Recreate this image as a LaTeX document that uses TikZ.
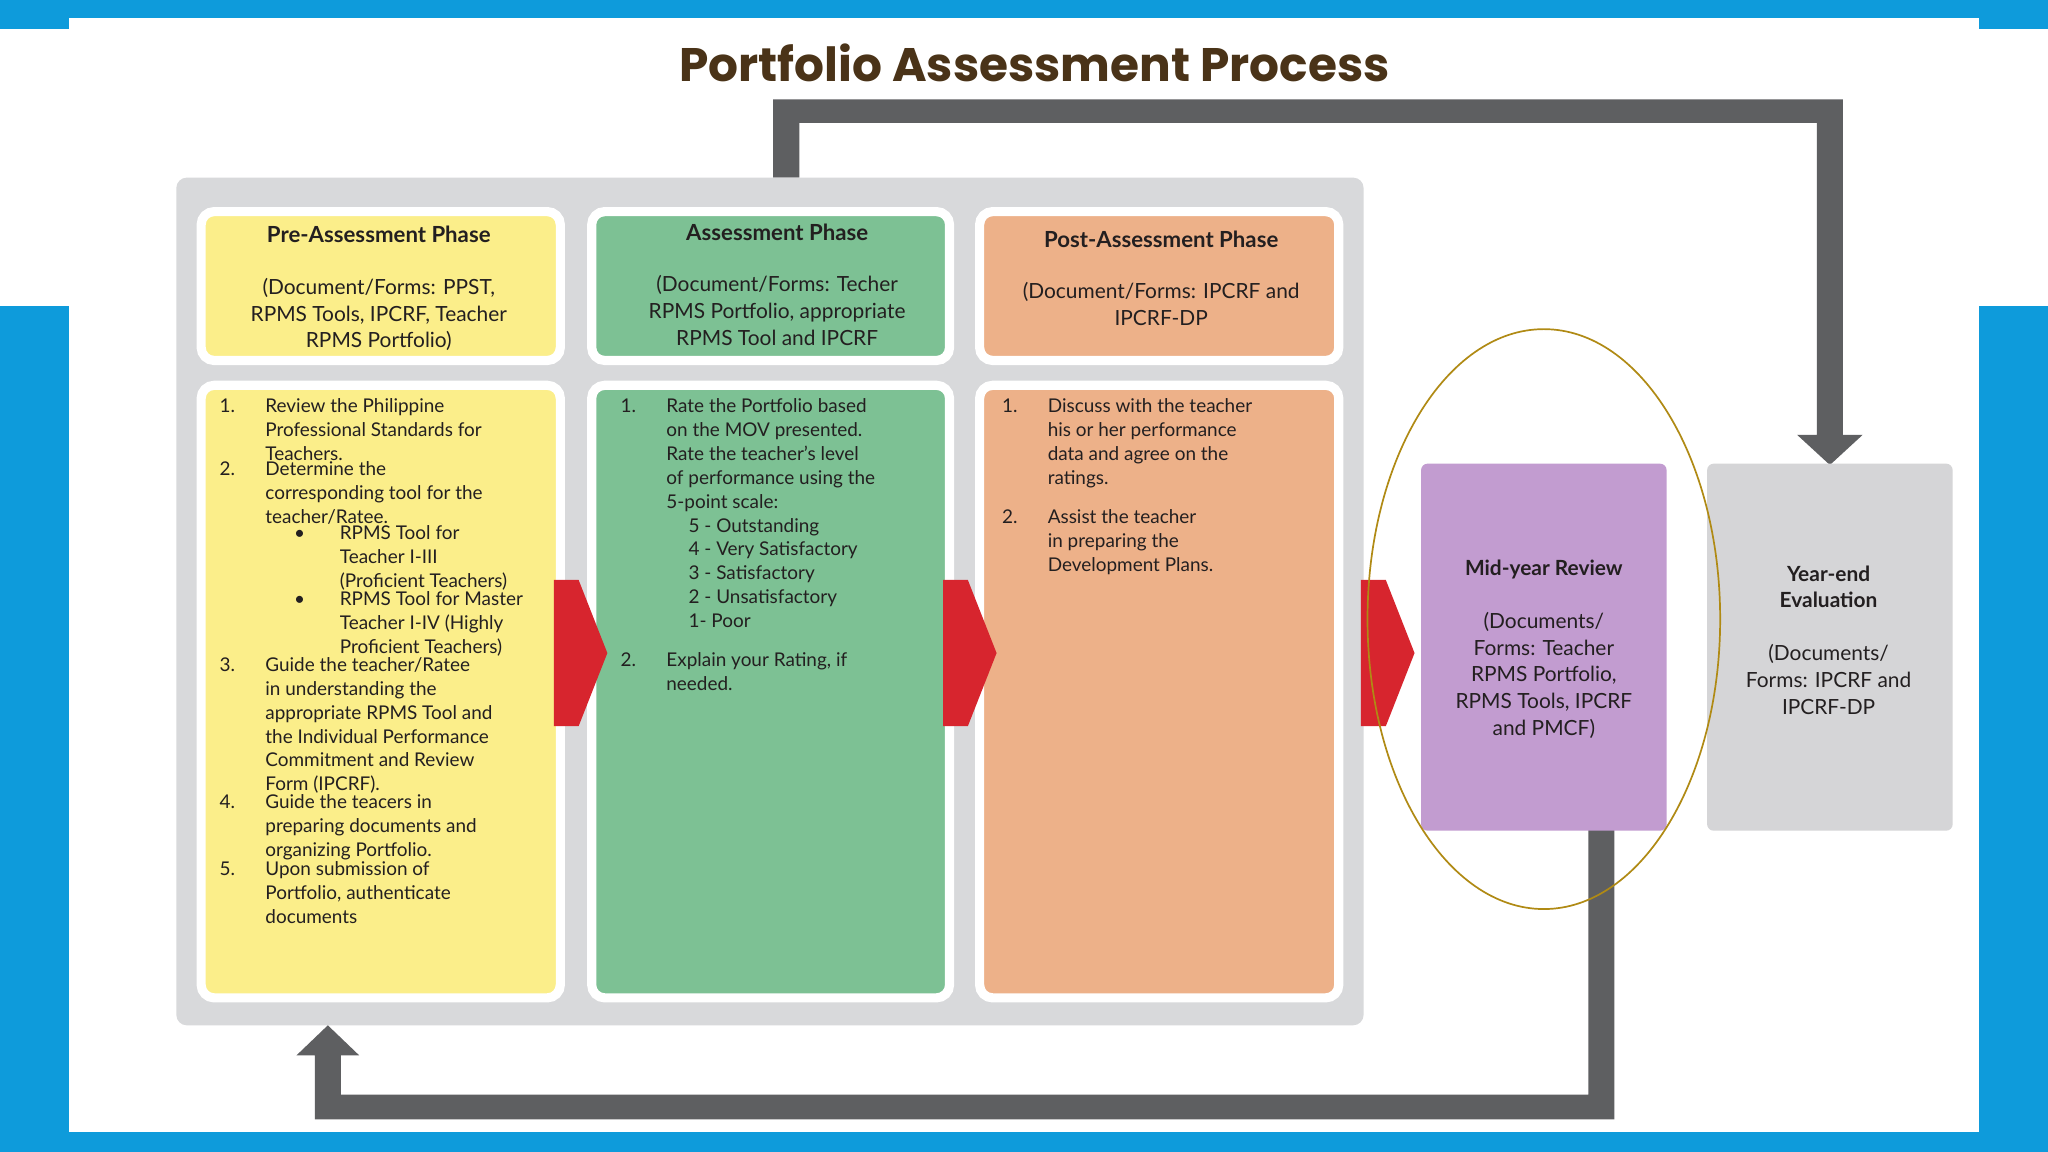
\documentclass[tikz,border=0pt]{standalone}
\usepackage{fontspec}
\setmainfont{Lato}
\newfontfamily\titlefont{Poppins}
\usetikzlibrary{calc}
\definecolor{bluebg}{HTML}{0E9BDB}
\definecolor{panel}{HTML}{D8D9DB}
\definecolor{yel}{HTML}{FBEE8A}
\definecolor{grn}{HTML}{7DC194}
\definecolor{org}{HTML}{EDB189}
\definecolor{pur}{HTML}{C29CD0}
\definecolor{gry}{HTML}{D5D5D7}
\definecolor{dgray}{HTML}{5E5F61}
\definecolor{redc}{HTML}{D7252E}
\definecolor{olive}{HTML}{B08A14}
\definecolor{brown}{HTML}{4A3318}
\definecolor{txt}{HTML}{231F20}
\newcommand{\itm}[2]{\makebox[35pt][l]{#1}\parbox[t]{230pt}{#2}\par}
\newcommand{\bul}[1]{\hspace*{57pt}\makebox[35pt][l]{•}\parbox[t]{180pt}{#1}\par}
\begin{document}
\begin{tikzpicture}[x=1pt,y=-1pt,
  hdr/.style={rounded corners=10pt, draw=white, line width=7pt},
  body/.style={font=\fontsize{14.5}{18.3}\selectfont, text=txt, anchor=north west, align=left, inner sep=0pt},
  htxt/.style={font=\fontsize{16}{20.5}\selectfont, text=txt, align=center, inner sep=0pt},
  side/.style={font=\fontsize{16}{20.5}\selectfont, text=txt, align=center, inner sep=0pt}]
\useasboundingbox (0,0) rectangle (1568,882);
\fill[bluebg] (0,0) rectangle (1568,882);
\fill[white] (53,14) rectangle (1515,867);
\fill[white] (0,22) rectangle (53,234);
\fill[white] (1515,22) rectangle (1568,234);
\node[font=\titlefont\bfseries\fontsize{36}{40}\selectfont, text=brown] (title) at (792,48) {Portfolio Assessment Process};
% top arrow
\fill[dgray] (592,136) -- (592,76) -- (1411,76) -- (1411,333) -- (1426,333) -- (1401,356) -- (1376,333) -- (1391,333) -- (1391,94) -- (612,94) -- (612,136) -- cycle;
% panel
\fill[panel, rounded corners=8pt] (135,136) rectangle (1044,785) node[coordinate] (panelc) {};
% bottom arrow
\fill[dgray] (1216,632) -- (1236,632) -- (1236,857) -- (241,857) -- (241,808) -- (227,808) -- (251,785) -- (275,808) -- (261,808) -- (261,838) -- (1216,838) -- cycle;
% column boxes
\foreach \x/\w/\c/\n in {150/283/yel/a,449/282/grn/b,746/283/org/c}{
  \filldraw[fill=\c, hdr] (\x+4,162) rectangle (\x+\w-4,276);
  \filldraw[fill=\c, hdr] (\x+4,295) rectangle (\x+\w-4,764);
}
% red arrows
\foreach \x in {424,722,1042}{\fill[redc] (\x,444) -- (\x+19,444) -- (\x+41,500) -- (\x+19,556) -- (\x,556) -- cycle;}
% headers
\node[htxt] (ha) at (290,221) {\textbf{\fontsize{17}{20}\selectfont Pre-Assessment Phase}\\[19pt](Document/Forms: PPST,\\RPMS Tools, IPCRF, Teacher\\RPMS Portfolio)};
\node[htxt] (hb) at (595,218) {\textbf{\fontsize{17}{20}\selectfont Assessment Phase}\\[19pt](Document/Forms: Techer\\RPMS Portfolio, appropriate\\RPMS Tool and IPCRF};
\node[htxt] (hc) at (889,213) {\textbf{\fontsize{17}{20}\selectfont Post-Assessment Phase}\\[19pt](Document/Forms: IPCRF and\\IPCRF-DP};
% bodies
\node[body] (ba) at (168,305) {\parbox{260pt}{%
\itm{1.}{Review the Philippine\\Professional Standards for\\Teachers.}
\itm{2.}{Determine the\\corresponding tool for the\\teacher/Ratee.}
\bul{RPMS Tool for\\Teacher I-III\\(Proficient Teachers)}
\bul{RPMS Tool for Master\\Teacher I-IV (Highly\\Proficient Teachers)}
\itm{3.}{Guide the teacher/Ratee\\in understanding the\\appropriate RPMS Tool and\\the Individual Performance\\Commitment and Review\\Form (IPCRF).}
\itm{4.}{Guide the teacers in\\preparing documents and\\organizing Portfolio.}
\itm{5.}{Upon submission of\\Portfolio, authenticate\\documents}}};
\node[body] (bb) at (475,305) {\parbox{250pt}{%
\itm{1.}{Rate the Portfolio based\\on the MOV presented.\\Rate the teacher's level\\of performance using the\\5-point scale:\\\hspace*{17pt}5 - Outstanding\\\hspace*{17pt}4 - Very Satisfactory\\\hspace*{17pt}3 - Satisfactory\\\hspace*{17pt}2 - Unsatisfactory\\\hspace*{17pt}1- Poor\\}
\itm{2.}{Explain your Rating, if\\needed.}}};
\node[body] (bc) at (767,305) {\parbox{250pt}{%
\itm{1.}{Discuss with the teacher\\his or her performance\\data and agree on the\\ratings.\\}
\itm{2.}{Assist the teacher\\in preparing the\\Development Plans.}}};
% side boxes
\fill[pur, rounded corners=5pt] (1088,355) rectangle (1276,636);
\node[side] (mid) at (1182,497) {\textbf{Mid-year Review}\\[20pt](Documents/\\Forms: Teacher\\RPMS Portfolio,\\RPMS Tools, IPCRF\\and PMCF)};
\fill[gry, rounded corners=5pt] (1307,355) rectangle (1495,636);
\node[side] (yend) at (1400,490) {\textbf{Year-end}\\\textbf{Evaluation}\\[20pt](Documents/\\Forms: IPCRF and\\IPCRF-DP};
\draw[olive, line width=1.3pt] (1182,474) ellipse [x radius=135, y radius=222];
\end{tikzpicture}
\end{document}
